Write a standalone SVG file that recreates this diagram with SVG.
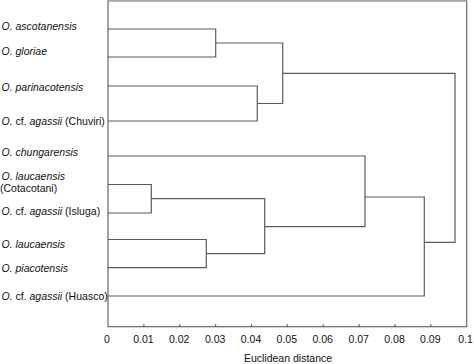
<svg xmlns="http://www.w3.org/2000/svg" width="474" height="364" viewBox="0 0 474 364">
<style>
text{font-family:"Liberation Sans",Arial,sans-serif;font-size:10.5px;fill:#111}
.i{font-style:italic}
.ln{fill:none;stroke:#5a5a5a;stroke-width:1.2}
.tk{text-anchor:middle}
</style>
<rect width="474" height="364" fill="#fff"/>
<g id="frame">
<rect x="108" y="0.8" width="358.7" height="325.9" fill="none" stroke="#666" stroke-width="1.2"/>
<line x1="108" y1="0.8" x2="466.7" y2="0.8" stroke="#a8a8a8" stroke-width="1.8"/>
</g>
<g id="axis">
<g class="ln">
<path d="M143.9 326.7v-2.5M179.7 326.7v-2.5M215.6 326.7v-2.5M251.5 326.7v-2.5M287.3 326.7v-2.5M323.2 326.7v-2.5M359.1 326.7v-2.5M395 326.7v-2.5M430.8 326.7v-2.5"/>
</g>
<text class="tk" x="107" y="342.5">0</text>
<text class="tk" x="143.4" y="342.5">0.01</text>
<text class="tk" x="179.2" y="342.5">0.02</text>
<text class="tk" x="215.1" y="342.5">0.03</text>
<text class="tk" x="251" y="342.5">0.04</text>
<text class="tk" x="286.8" y="342.5">0.05</text>
<text class="tk" x="322.7" y="342.5">0.06</text>
<text class="tk" x="358.6" y="342.5">0.07</text>
<text class="tk" x="394.5" y="342.5">0.08</text>
<text class="tk" x="430.3" y="342.5">0.09</text>
<text class="tk" x="465.5" y="342.5">0.1</text>
<text class="tk" x="288" y="362">Euclidean distance</text>
</g>
<g id="labels">
<text x="1.5" y="30"><tspan class="i">O. ascotanensis</tspan></text>
<text x="1.5" y="54.5"><tspan class="i">O. gloriae</tspan></text>
<text x="1.5" y="90.5"><tspan class="i">O. parinacotensis</tspan></text>
<text x="1.5" y="125"><tspan class="i">O.</tspan> cf. <tspan class="i">agassii</tspan> (Chuviri)</text>
<text x="1.5" y="156.3"><tspan class="i">O. chungarensis</tspan></text>
<text x="1.5" y="180"><tspan class="i">O. laucaensis</tspan></text>
<text x="0" y="191.5">(Cotacotani)</text>
<text x="1.5" y="215"><tspan class="i">O.</tspan> cf. <tspan class="i">agassii</tspan> (Isluga)</text>
<text x="1.5" y="248"><tspan class="i">O. laucaensis</tspan></text>
<text x="1.5" y="272"><tspan class="i">O. piacotensis</tspan></text>
<text x="1.5" y="300"><tspan class="i">O.</tspan> cf. <tspan class="i">agassii</tspan> (Huasco)</text>
</g>
<g id="connectors" class="ln">
<path d="M108 29H215.7V57H108"/>
<path d="M108 86H257.3V121H108"/>
<path d="M215.7 43H282.7V103.5H257.3"/>
<path d="M108 156H365V226.7H264.7"/>
<path d="M108 184.5H151.3V213H108"/>
<path d="M108 239.5H206.3V267.7H108"/>
<path d="M151.3 198.7H264.7V253.6H206.3"/>
<path d="M365 197H424.3V296H108"/>
<path d="M282.7 73.3H455V242.3H424.3"/>
</g>
</svg>
